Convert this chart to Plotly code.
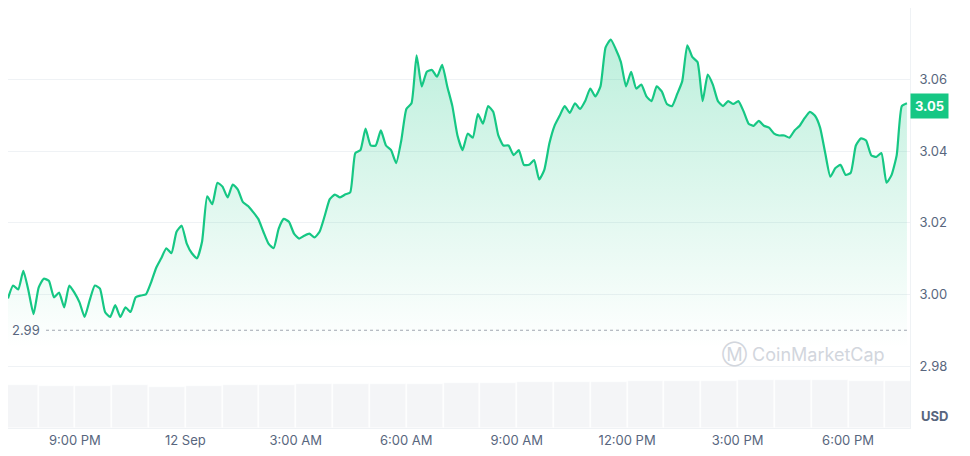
import pandas as pd
import plotly.graph_objects as go

price = [
    2.9989, 3.0025, 3.0014, 3.0066, 3.0011, 2.9945, 3.0019, 3.0044, 3.0038, 2.9992,
    3.0005, 2.9964, 3.0025, 3.0005, 2.9978, 2.9937, 2.9984, 3.0025, 3.0016, 2.9951,
    2.9937, 2.9970, 2.9937, 2.9964, 2.9951, 2.9992, 2.9997, 3.0000, 3.0033, 3.0074,
    3.0101, 3.0129, 3.0115, 3.0175, 3.0192, 3.0142, 3.0115, 3.0101, 3.0148, 3.0274,
    3.0252, 3.0312, 3.0301, 3.0271, 3.0307, 3.0293, 3.0258, 3.0247, 3.0230, 3.0211,
    3.0175, 3.0142, 3.0129, 3.0184, 3.0211, 3.0203, 3.0170, 3.0156, 3.0164, 3.0170,
    3.0159, 3.0175, 3.0219, 3.0266, 3.0279, 3.0271, 3.0279, 3.0285, 3.0395, 3.0403,
    3.0463, 3.0416, 3.0416, 3.0458, 3.0416, 3.0403, 3.0367, 3.0430, 3.0518, 3.0534,
    3.0668, 3.0581, 3.0622, 3.0627, 3.0608, 3.0641, 3.0581, 3.0526, 3.0444, 3.0403,
    3.0449, 3.0438, 3.0504, 3.0477, 3.0526, 3.0510, 3.0444, 3.0416, 3.0416, 3.0389,
    3.0403, 3.0362, 3.0362, 3.0375, 3.0321, 3.0348, 3.0422, 3.0471, 3.0499, 3.0526,
    3.0507, 3.0534, 3.0518, 3.0540, 3.0575, 3.0553, 3.0581, 3.0690, 3.0712, 3.0685,
    3.0649, 3.0581, 3.0622, 3.0575, 3.0586, 3.0553, 3.0540, 3.0581, 3.0567, 3.0532,
    3.0526, 3.0559, 3.0595, 3.0696, 3.0663, 3.0649, 3.0540, 3.0614, 3.0586, 3.0540,
    3.0526, 3.0540, 3.0532, 3.0540, 3.0512, 3.0477, 3.0471, 3.0485, 3.0471, 3.0466,
    3.0449, 3.0444, 3.0444, 3.0438, 3.0458, 3.0471, 3.0493, 3.0510, 3.0499, 3.0466,
    3.0395, 3.0329, 3.0353, 3.0362, 3.0334, 3.0340, 3.0416, 3.0436, 3.0430, 3.0389,
    3.0384, 3.0395, 3.0312, 3.0334, 3.0389, 3.0526, 3.0534,
]
times = pd.date_range("2024-09-11 19:11", "2024-09-12 19:36", periods=len(price))

vol_times = pd.date_range("2024-09-11 19:30", "2024-09-12 19:30", freq="1h")
volume = [52, 51, 51, 52, 50, 51, 52, 52, 53, 53, 54, 54, 55, 55, 56, 56,
          56, 57, 57, 57, 58, 58, 58, 57, 57]

tick_vals = pd.date_range("2024-09-11 21:00", periods=8, freq="3h")
tick_text = ["9:00 PM", "12 Sep", "3:00 AM", "6:00 AM", "9:00 AM", "12:00 PM", "3:00 PM", "6:00 PM"]

open_price = 2.99
last_price = 3.05
green = "#16c784"
grey = "#58667e"

fig = go.Figure()

fig.add_trace(go.Bar(
    x=vol_times, y=volume, yaxis="y2", width=3.5e6,
    marker=dict(color="#f4f5f7", line=dict(color="#ffffff", width=0.5)),
    hoverinfo="skip",
))

fig.add_trace(go.Scatter(
    x=times, y=[2.985] * len(times), mode="lines",
    line=dict(width=0), hoverinfo="skip",
))
fig.add_trace(go.Scatter(
    x=times, y=price, mode="lines", fill="tonexty",
    line=dict(color=green, width=2.2, shape="spline", smoothing=0.5),
    fillgradient=dict(type="vertical", start=2.985, stop=3.07,
                      colorscale=[[0, "rgba(22,199,132,0)"], [1, "rgba(22,199,132,0.28)"]]),
))

fig.add_shape(type="line", xref="x", yref="y",
              x0=pd.Timestamp("2024-09-11 20:13"), x1=pd.Timestamp("2024-09-12 19:36"),
              y0=open_price, y1=open_price,
              line=dict(color="#a0a6b0", width=1.2, dash="dot"))

fig.add_annotation(x=0.002, xref="paper", y=open_price, yref="y", text="2.99",
                   showarrow=False, xanchor="left", font=dict(color=grey, size=13))
fig.add_annotation(x=1.0, xref="paper", y=3.0525, yref="y", text="<b>3.05</b>",
                   showarrow=False, xanchor="left", bgcolor=green, borderpad=4,
                   font=dict(color="white", size=13))
fig.add_annotation(x=1.01, xref="paper", y=2.966, yref="y", text="<b>USD</b>",
                   showarrow=False, xanchor="left", font=dict(color=grey, size=13))
fig.add_annotation(x=0.975, xref="paper", y=2.9833, yref="y", text="Ⓜ CoinMarketCap",
                   showarrow=False, xanchor="right", font=dict(color="#d2d6dd", size=18))

fig.update_layout(
    width=970, height=456, margin=dict(l=0, r=68, t=0, b=36),
    paper_bgcolor="white", plot_bgcolor="white", showlegend=False,
    font=dict(family="Inter, Noto Sans, sans-serif", color=grey, size=13),
    bargap=0,
    xaxis=dict(range=[pd.Timestamp("2024-09-11 19:11"), pd.Timestamp("2024-09-12 19:41")],
               tickvals=tick_vals, ticktext=tick_text, showgrid=False,
               showline=True, linecolor="#eff2f5", ticks="", zeroline=False),
    yaxis=dict(range=[2.9627, 3.08], side="right", tickvals=[2.98, 3.00, 3.02, 3.04, 3.06],
               tickformat=".2f", gridcolor="#eff2f5", zeroline=False, showline=True,
               linecolor="#eff2f5", ticklabelstandoff=6),
    yaxis2=dict(overlaying="y", range=[0, 58 * 8.8], visible=False),
)

fig.write_html("out.html")
